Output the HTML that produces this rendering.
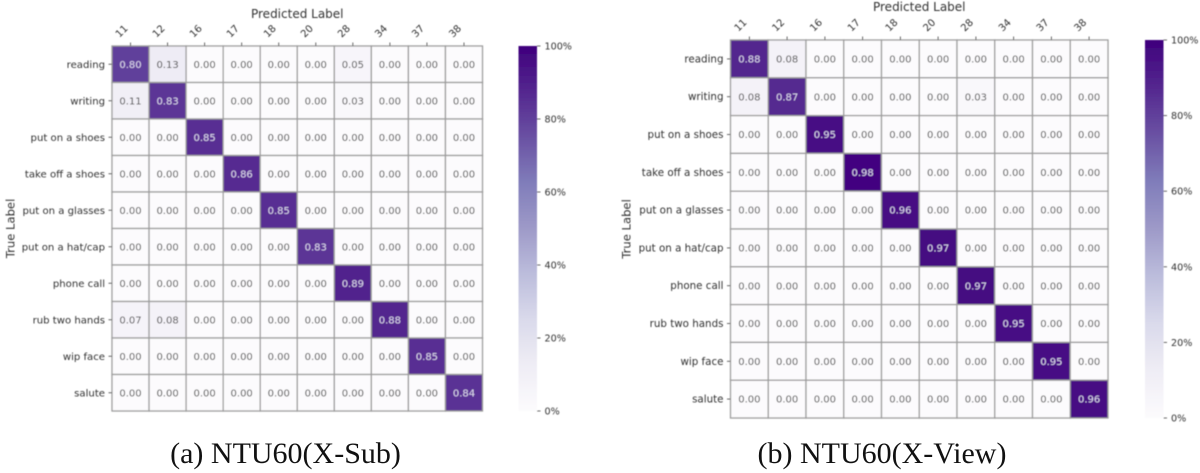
<!DOCTYPE html>
<html>
<head>
<meta charset="utf-8">
<style>
html,body{margin:0;padding:0;background:#fff;width:1200px;height:473px;overflow:hidden}
svg{display:block}
text{font-family:"DejaVu Sans",sans-serif;fill:#333}
.cap{font-family:"Liberation Serif",serif;fill:#111;font-size:30px}
</style>
</head>
<body>
<svg id="figure" width="1200" height="473" viewBox="0 0 1200 473" xmlns="http://www.w3.org/2000/svg">
<defs>
<filter id="soft" x="0" y="0" width="1200" height="473" filterUnits="userSpaceOnUse"><feGaussianBlur stdDeviation="0.4"/></filter>
<linearGradient id="cbar" x1="0" y1="1" x2="0" y2="0">
<stop offset="0" stop-color="#fcfbfd"/><stop offset=".125" stop-color="#efedf5"/><stop offset=".25" stop-color="#dadaeb"/><stop offset=".375" stop-color="#bcbddc"/><stop offset=".5" stop-color="#9e9ac8"/><stop offset=".625" stop-color="#807dba"/><stop offset=".75" stop-color="#6a51a3"/><stop offset=".875" stop-color="#54278f"/><stop offset="1" stop-color="#3f007d"/>
</linearGradient>
</defs>
<g id="root" filter="url(#soft)"></g>
<text class="cap" x="285.5" y="463" text-anchor="middle">(a) NTU60(X-Sub)</text>
<text class="cap" x="882" y="463" text-anchor="middle">(b) NTU60(X-View)</text>
</svg>
<script>
const predictedLabels = ["11","12","16","17","18","20","28","34","37","38"];
const trueLabels = ["reading","writing","put on a shoes","take off a shoes","put on a glasses","put on a hat/cap","phone call","rub two hands","wip face","salute"];
const colorbarTicks = [0,20,40,60,80,100];
const matrixXSub = [
[0.80,0.13,0,0,0,0,0.05,0,0,0],
[0.11,0.83,0,0,0,0,0.03,0,0,0],
[0,0,0.85,0,0,0,0,0,0,0],
[0,0,0,0.86,0,0,0,0,0,0],
[0,0,0,0,0.85,0,0,0,0,0],
[0,0,0,0,0,0.83,0,0,0,0],
[0,0,0,0,0,0,0.89,0,0,0],
[0.07,0.08,0,0,0,0,0,0.88,0,0],
[0,0,0,0,0,0,0,0,0.85,0],
[0,0,0,0,0,0,0,0,0,0.84]
];
const matrixXView = [
[0.88,0.08,0,0,0,0,0,0,0,0],
[0.08,0.87,0,0,0,0,0.03,0,0,0],
[0,0,0.95,0,0,0,0,0,0,0],
[0,0,0,0.98,0,0,0,0,0,0],
[0,0,0,0,0.96,0,0,0,0,0],
[0,0,0,0,0,0.97,0,0,0,0],
[0,0,0,0,0,0,0.97,0,0,0],
[0,0,0,0,0,0,0,0.95,0,0],
[0,0,0,0,0,0,0,0,0.95,0],
[0,0,0,0,0,0,0,0,0,0.96]
];

const purples = ["#fcfbfd","#efedf5","#dadaeb","#bcbddc","#9e9ac8","#807dba","#6a51a3","#54278f","#3f007d"];
function hexToRgb(h){return [1,3,5].map(i=>parseInt(h.substr(i,2),16));}
function colorFor(v){
  const t=Math.max(0,Math.min(1,v))*(purples.length-1);
  const i=Math.min(Math.floor(t),purples.length-2);
  const f=t-i;
  const a=hexToRgb(purples[i]),b=hexToRgb(purples[i+1]);
  return "rgb("+a.map((c,k)=>Math.round(c+(b[k]-c)*f)).join(",")+")";
}
const NS="http://www.w3.org/2000/svg";
const root=document.getElementById("root");
function add(parent,tag,attrs,txt){
  const el=document.createElementNS(NS,tag);
  for(const k in attrs)el.setAttribute(k,attrs[k]);
  if(txt!==undefined)el.textContent=txt;
  parent.appendChild(el);
  return el;
}
function drawHeatmap(name,matrix,box,cb){
  const g=add(root,"g",{});
  
  
  const cw=box.w/predictedLabels.length,ch=box.h/trueLabels.length;
  const xAt=i=>box.x+i*cw, yAt=j=>box.y+j*ch;
  matrix.forEach((row,j)=>row.forEach((v,i)=>{
    const cell=add(g,"rect",{x:xAt(i),y:yAt(j),width:cw,height:ch,fill:colorFor(v),stroke:"#9c9c9c","stroke-width":1.3});
    
    
    const label=add(g,"text",{x:xAt(i)+cw/2,y:yAt(j)+ch/2+3.6,"text-anchor":"middle","font-size":10},v.toFixed(2));
    label.setAttribute('style', 'fill:'+(v>0.5?'#dcd6ec':'#444'));
    
    
  }));
  predictedLabels.forEach((l,i)=>{
    const cx=xAt(i)+cw/2;
    add(g,"line",{x1:cx,x2:cx,y1:box.y-3.5,y2:box.y,stroke:"#444","stroke-width":0.8});
    const px=cx-9, py=box.y-15;
    const t=add(g,"text",{x:px,y:py+3.5,"font-size":10,"text-anchor":"middle",transform:"rotate(-45 "+px+" "+py+")"},l);
    
    
  });
  trueLabels.forEach((l,j)=>{
    const cy=yAt(j)+ch/2;
    add(g,"line",{x1:box.x-3.5,x2:box.x,y1:cy,y2:cy,stroke:"#444","stroke-width":0.8});
    const t=add(g,"text",{x:box.x-7,y:cy+3.5,"font-size":box.labelSize,"text-anchor":"end"},l);
    
    
  });
  const xt=add(g,"text",{x:box.x+box.w/2,y:box.titleY,"font-size":12,"text-anchor":"middle"},"Predicted Label");
  
  
  const yx=box.yTitleX, yy=box.y+box.h/2;
  const yt=add(g,"text",{x:yx,y:yy,"font-size":11.6,"text-anchor":"middle",transform:"rotate(-90 "+yx+" "+yy+")"},"True Label");
  
  
  const bar=add(g,"rect",{x:cb.x,y:box.y,width:cb.w,height:box.h,fill:"url(#cbar)"});
  
  
  colorbarTicks.forEach(p=>{
    const y=box.y+box.h*(1-p/100);
    add(g,"line",{x1:cb.x+cb.w,x2:cb.x+cb.w+3.5,y1:y,y2:y,stroke:"#444","stroke-width":0.8});
    const t=add(g,"text",{x:cb.x+cb.w+7.5,y:y+3.5,"font-size":9.6},p+"%");
    
    
  });
}
drawHeatmap("heatmap-x-sub",matrixXSub,{x:112,y:46,w:370.5,h:365,titleY:18,yTitleX:14.5,labelSize:10.1},{x:518.5,w:18.5});
drawHeatmap("heatmap-x-view",matrixXView,{x:730.5,y:40,w:377.5,h:378,titleY:11,yTitleX:630.5,labelSize:10.3},{x:1145,w:18.5});
</script>
</body>
</html>
